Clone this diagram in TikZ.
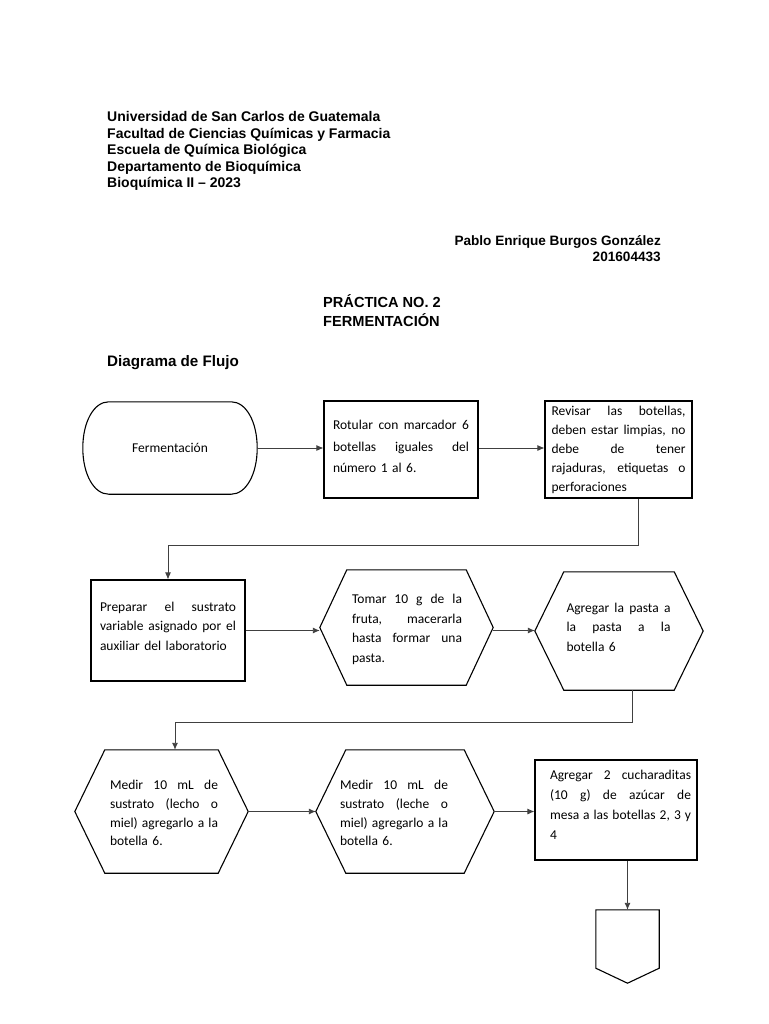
\documentclass[tikz,border=0pt]{standalone}
\usepackage{fontspec}
\setmainfont{Carlito}
\newfontfamily\hdr{Liberation Sans}
\usetikzlibrary{arrows.meta}
\newcommand\jl[2]{\leavevmode\hbox to #1{\spaceskip=\fontdimen2\font plus 1fil\relax #2}}
\begin{document}
\begin{tikzpicture}[x=1pt,y=-1pt,
  hdrtext/.style={inner sep=0pt,font=\hdr\bfseries\fontsize{14}{16}\selectfont},
  flowbox/.style={draw=black,line width=1.1pt,rectangle,inner sep=0pt},
  hexbox/.style={rectangle,inner sep=0pt,align=left,font=\fontsize{13.5}{19.5}\selectfont},
  hexline/.style={draw=black,line width=1.1pt,line join=miter},
  conn/.style={draw=black!75,line width=0.9pt},
  arr/.style={conn,-{Latex[length=7pt,width=6pt]}}
]
\useasboundingbox (0,0) rectangle (768,1024);
\fill[white] (0,0) rectangle (768,1024);

% header
\node[hdrtext,anchor=base west] (h1) at (107,122) {Universidad de San Carlos de Guatemala};
\node[hdrtext,anchor=base west] (h2) at (107,139) {Facultad de Ciencias Químicas y Farmacia};
\node[hdrtext,anchor=base west] (h3) at (107,155) {Escuela de Química Biológica};
\node[hdrtext,anchor=base west] (h4) at (107,172) {Departamento de Bioquímica};
\node[hdrtext,anchor=base west] (h5) at (107,188) {Bioquímica II – 2023};
\node[hdrtext,anchor=base east,font=\hdr\bfseries\fontsize{13.6}{16}\selectfont] (au) at (661,245) {Pablo Enrique Burgos González};
\node[hdrtext,anchor=base east,font=\hdr\bfseries\fontsize{13.6}{16}\selectfont] (ca) at (661,261) {201604433};
\node[hdrtext,anchor=base west,font=\hdr\bfseries\fontsize{14.6}{17}\selectfont] (t1) at (323,307) {PRÁCTICA NO. 2};
\node[hdrtext,anchor=base west,font=\hdr\bfseries\fontsize{14.6}{17}\selectfont] (t2) at (323,326) {FERMENTACIÓN};
\node[hdrtext,anchor=base west,font=\hdr\bfseries\fontsize{15.2}{18}\selectfont] (df) at (107,366) {Diagrama de Flujo};

% row 1
\node[rectangle,inner sep=0pt,minimum width=174pt,minimum height=92pt,font=\fontsize{13.5}{19.5}\selectfont] (term) at (170,448) {Fermentación};
\draw[hexline] ([xshift=26pt]term.north west) -- ([xshift=-26pt]term.north east)
  .. controls +(15,0) and +(0,-26) .. (term.east)
  .. controls +(0,26) and +(15,0) .. ([xshift=-26pt]term.south east)
  -- ([xshift=26pt]term.south west)
  .. controls +(-15,0) and +(0,26) .. (term.west)
  .. controls +(0,-26) and +(-15,0) .. ([xshift=26pt]term.north west) -- cycle;

\node[flowbox,minimum width=154pt,minimum height=97pt] (b2) at (401,449.5) {};
\node[hexbox,text width=136pt,font=\fontsize{13.5}{21.5}\selectfont] (b2t) at (401,446.5) {\jl{136pt}{Rotular con marcador 6}\\\jl{136pt}{botellas iguales del}\\número 1 al 6.};
\node[flowbox,minimum width=147pt,minimum height=97pt] (b3) at (618.5,449.5) {};
\node[hexbox,text width=134pt,font=\fontsize{13.5}{19}\selectfont] (b3t) at (618.5,450) {\jl{134pt}{Revisar las botellas,}\\\jl{134pt}{deben estar limpias, no}\\\jl{134pt}{debe de tener}\\\jl{134pt}{rajaduras, etiquetas o}\\perforaciones};

% row 2
\node[flowbox,minimum width=154pt,minimum height=101pt] (b4) at (168,630.5) {};
\node[hexbox,text width=136pt] (b4t) at (168,626) {\jl{136pt}{Preparar el sustrato}\\\jl{136pt}{variable asignado por el}\\auxiliar del laboratorio};
\node[hexbox,minimum width=173pt,minimum height=115pt] (x1) at (406.5,627.5) {};
\node[hexbox,text width=110pt] (x1t) at (407,629.5) {\jl{110pt}{Tomar 10 g de la}\\\jl{110pt}{fruta, macerarla}\\\jl{110pt}{hasta formar una}\\pasta.};
\node[hexbox,minimum width=168pt,minimum height=118pt] (x2) at (619,631) {};
\node[hexbox,text width=104pt] (x2t) at (618.5,627) {\jl{104pt}{Agregar la pasta a}\\\jl{104pt}{la pasta a la}\\botella 6};

% row 3
\node[hexbox,minimum width=173pt,minimum height=123pt] (x3) at (161.5,811.5) {};
\node[hexbox,text width=108pt,font=\fontsize{13.5}{18.8}\selectfont] (x3t) at (164,813) {\jl{108pt}{Medir 10 mL de}\\\jl{108pt}{sustrato (lecho o}\\\jl{108pt}{miel) agregarlo a la}\\botella 6.};
\node[hexbox,minimum width=178pt,minimum height=123pt] (x4) at (405,811.5) {};
\node[hexbox,text width=108pt,font=\fontsize{13.5}{18.8}\selectfont] (x4t) at (394,813) {\jl{108pt}{Medir 10 mL de}\\\jl{108pt}{sustrato (leche o}\\\jl{108pt}{miel) agregarlo a la}\\botella 6.};
\node[flowbox,minimum width=162pt,minimum height=100pt] (b5) at (616,810) {};
\node[hexbox,text width=141pt,font=\fontsize{13.5}{20}\selectfont] (b5t) at (620.5,805) {\jl{141pt}{Agregar 2 cucharaditas}\\\jl{141pt}{(10 g) de azúcar de}\\\jl{141pt}{mesa a las botellas 2, 3 y}\\4};

% off-page connector
\node[rectangle,inner sep=0pt,minimum width=63pt,minimum height=73pt] (pg) at (627.5,946.5) {};

% outlines
\draw[hexline] (x1.west) -- ([xshift=27pt]x1.north west) -- ([xshift=-27pt]x1.north east) -- (x1.east) -- ([xshift=-27pt]x1.south east) -- ([xshift=27pt]x1.south west) -- cycle;
\draw[hexline] (x2.west) -- ([xshift=29pt]x2.north west) -- ([xshift=-29pt]x2.north east) -- (x2.east) -- ([xshift=-29pt]x2.south east) -- ([xshift=29pt]x2.south west) -- cycle;
\draw[hexline] (x3.west) -- ([xshift=30pt]x3.north west) -- ([xshift=-30pt]x3.north east) -- (x3.east) -- ([xshift=-30pt]x3.south east) -- ([xshift=30pt]x3.south west) -- cycle;
\draw[hexline] (x4.west) -- ([xshift=30pt]x4.north west) -- ([xshift=-30pt]x4.north east) -- (x4.east) -- ([xshift=-30pt]x4.south east) -- ([xshift=30pt]x4.south west) -- cycle;
\draw[hexline] (pg.north west) -- (pg.north east) -- ([yshift=15pt]pg.south east) -- (pg.south) -- ([yshift=15pt]pg.south west) -- cycle;

% connectors
\coordinate (c1) at (638,545);
\coordinate (c2) at (632,722);
\coordinate (c3) at (175,722);
\draw[arr] (term.east) -- (term.east -| b2.west);
\draw[arr] (b2.east |- term.east) -- (term.east -| b3.west);
\draw[arr] (b3.south -| c1) -- (c1) -| (b4.north);
\draw[arr] (b4.east) -- (b4.east -| x1.west);
\draw[arr] (x1.east |- b4.east) -- (b4.east -| x2.west);
\draw[arr] (x2.south -| c2) -- (c2) -- (c3) -- (c3 |- x3.north);
\draw[arr] (x3.east) -- (x4.west);
\draw[arr] (x4.east) -- (x4.east -| b5.west);
\draw[arr] (b5.south -| pg.north) -- (pg.north);
\end{tikzpicture}
\end{document}
